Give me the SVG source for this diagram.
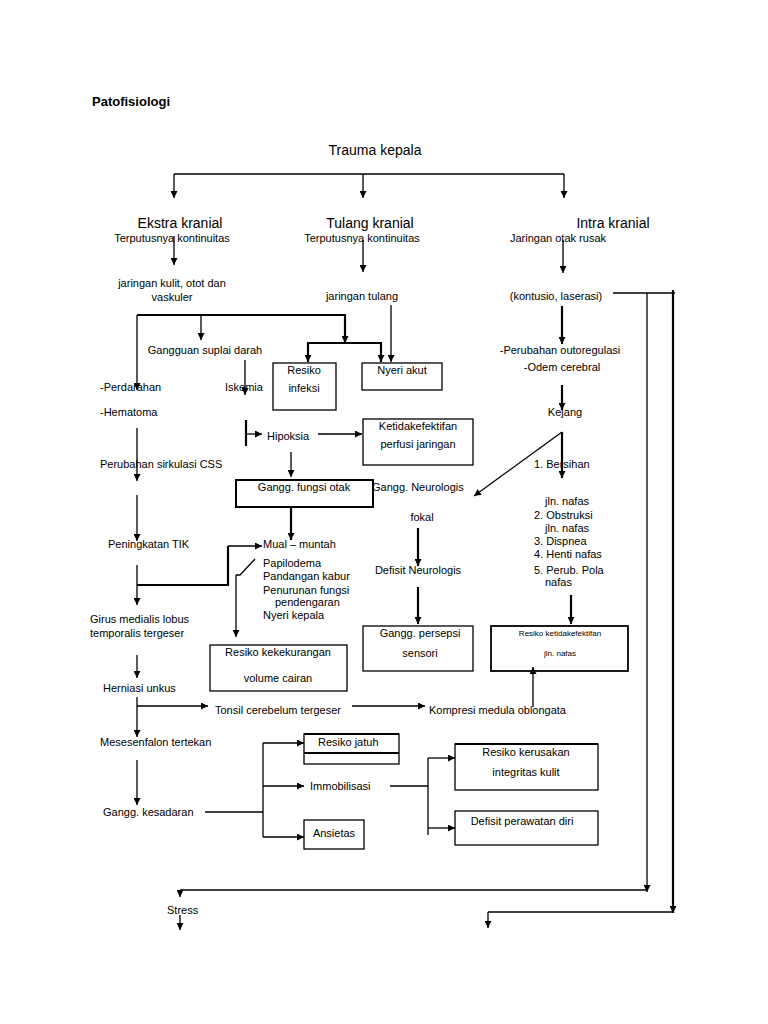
<svg xmlns="http://www.w3.org/2000/svg" width="768" height="1024" viewBox="0 0 768 1024">
<defs><marker id="a" viewBox="0 0 10 10" refX="10" refY="5" markerWidth="7" markerHeight="7" markerUnits="userSpaceOnUse" orient="auto"><path d="M0,0L10,5L0,10z" fill="#000"/></marker></defs>
<style>
text{font-family:"Liberation Sans",Arial,sans-serif;font-size:11px;fill:#000}
.c{text-anchor:middle}.b{font-size:14px}
g rect{fill:none;stroke:#000;stroke-width:1.3}
#e line,#e polyline{stroke:#000;stroke-width:1.3;fill:none}
.t{stroke-width:2.2!important}
</style>
<rect x="0" y="0" width="768" height="1024" fill="#fff"/>
<text x="92" y="106" style="font-weight:bold;font-size:13px">Patofisiologi</text>
<g id="e">
<line x1="174" y1="174" x2="564" y2="174"/>
<line x1="174" y1="174" x2="174" y2="198" marker-end="url(#a)"/>
<line x1="363" y1="174" x2="363" y2="198" marker-end="url(#a)"/>
<line x1="564" y1="174" x2="564" y2="198" marker-end="url(#a)"/>
<line x1="174" y1="236" x2="174" y2="265" marker-end="url(#a)"/>
<line x1="363" y1="240" x2="363" y2="272" marker-end="url(#a)"/>
<line x1="563" y1="240" x2="563" y2="273" marker-end="url(#a)"/>
<line class="t" x1="137" y1="315" x2="346" y2="315"/>
<line x1="137" y1="315" x2="137" y2="390" marker-end="url(#a)"/>
<line x1="201" y1="315" x2="201" y2="340" marker-end="url(#a)"/>
<line class="t" x1="345" y1="315" x2="345" y2="343" marker-end="url(#a)"/>
<polyline class="t" points="308,362 308,343 381,343 381,362"/>
<line x1="308" y1="350" x2="308" y2="362" marker-end="url(#a)"/>
<line x1="381" y1="350" x2="381" y2="362" marker-end="url(#a)"/>
<line x1="391" y1="305" x2="391" y2="362" marker-end="url(#a)"/>
<line x1="245" y1="360" x2="245" y2="395" marker-end="url(#a)"/>
<line class="t" x1="246" y1="420" x2="246" y2="446"/>
<line x1="246" y1="434" x2="262" y2="434" marker-end="url(#a)"/>
<line x1="318" y1="434" x2="362" y2="434" marker-end="url(#a)"/>
<line x1="137" y1="428" x2="137" y2="481" marker-end="url(#a)"/>
<line x1="291" y1="452" x2="291" y2="477" marker-end="url(#a)"/>
<line class="t" x1="291" y1="507" x2="291" y2="540" marker-end="url(#a)"/>
<line x1="137" y1="495" x2="137" y2="541" marker-end="url(#a)"/>
<line x1="137" y1="565" x2="137" y2="605" marker-end="url(#a)"/>
<polyline class="t" points="137,585 228,585 228,546"/>
<line x1="228" y1="546" x2="262" y2="546" marker-end="url(#a)"/>
<polyline points="255,559 240,575 236,575"/>
<line x1="236" y1="575" x2="236" y2="637" marker-end="url(#a)"/>
<line x1="137" y1="655" x2="137" y2="678" marker-end="url(#a)"/>
<line x1="137" y1="697" x2="137" y2="737" marker-end="url(#a)"/>
<line x1="137" y1="706" x2="208" y2="706" marker-end="url(#a)"/>
<line x1="352" y1="706" x2="425" y2="706" marker-end="url(#a)"/>
<line x1="533" y1="707" x2="533" y2="667" marker-end="url(#a)"/>
<line class="t" x1="418" y1="528" x2="418" y2="566" marker-end="url(#a)"/>
<line class="t" x1="418" y1="587" x2="418" y2="624" marker-end="url(#a)"/>
<line class="t" x1="562" y1="306" x2="562" y2="344" marker-end="url(#a)"/>
<line class="t" x1="562" y1="385" x2="562" y2="410" marker-end="url(#a)"/>
<line x1="562" y1="432" x2="474" y2="496" marker-end="url(#a)"/>
<line class="t" x1="562" y1="432" x2="562" y2="478" marker-end="url(#a)"/>
<line class="t" x1="571" y1="595" x2="571" y2="624" marker-end="url(#a)"/>
<line x1="613" y1="293" x2="675" y2="293"/>
<line x1="647" y1="293" x2="647" y2="892" marker-end="url(#a)"/>
<line class="t" x1="673" y1="290" x2="673" y2="913" marker-end="url(#a)"/>
<line x1="647" y1="890" x2="180" y2="890"/>
<line x1="180" y1="890" x2="180" y2="897" marker-end="url(#a)"/>
<line x1="180" y1="915" x2="180" y2="930" marker-end="url(#a)"/>
<line x1="673" y1="912" x2="488" y2="912"/>
<line x1="488" y1="912" x2="488" y2="928" marker-end="url(#a)"/>
<line x1="137" y1="760" x2="137" y2="805" marker-end="url(#a)"/>
<line x1="205" y1="812" x2="263" y2="812"/>
<line x1="263" y1="743" x2="263" y2="837"/>
<line x1="263" y1="743" x2="304" y2="743" marker-end="url(#a)"/>
<line x1="263" y1="786" x2="304" y2="786" marker-end="url(#a)"/>
<line x1="263" y1="837" x2="304" y2="837" marker-end="url(#a)"/>
<line x1="390" y1="786" x2="428" y2="786"/>
<line x1="428" y1="758" x2="428" y2="835"/>
<line x1="428" y1="758" x2="455" y2="758" marker-end="url(#a)"/>
<line x1="428" y1="828" x2="455" y2="828" marker-end="url(#a)"/>
</g>
<g id="n1"><text class="c b" x="375" y="155">Trauma kepala</text></g>
<g id="n2"><text class="c b" x="180" y="228">Ekstra kranial</text><text class="c" x="172" y="242">Terputusnya kontinuitas</text></g>
<g id="n3"><text class="c b" x="370" y="228">Tulang kranial</text><text class="c" x="362" y="242">Terputusnya kontinuitas</text></g>
<g id="n4"><text class="c b" x="613" y="228">Intra kranial</text><text class="c" x="558" y="242">Jaringan otak rusak</text></g>
<g id="n5"><text class="c" x="172" y="287">jaringan kulit, otot dan</text><text class="c" x="172" y="301">vaskuler</text></g>
<g id="n6"><text class="c" x="362" y="300">jaringan tulang</text></g>
<g id="n7"><text class="c" x="556" y="300">(kontusio, laserasi)</text></g>
<g id="n8"><text class="c" x="205" y="354">Gangguan suplai darah</text></g>
<g id="n9"><rect x="273" y="363" width="63" height="47"/><text class="c" x="304" y="374">Resiko</text><text class="c" x="304" y="392">infeksi</text></g>
<g id="n10"><rect x="362" y="363" width="80" height="27"/><text class="c" x="402" y="374">Nyeri akut</text></g>
<g id="n11"><text x="100" y="391">-Perdarahan</text><text x="100" y="416">-Hematoma</text></g>
<g id="n12"><text x="225" y="391">Iskemia</text></g>
<g id="n13"><text x="267" y="440">Hipoksia</text></g>
<g id="n14"><rect x="363" y="419" width="110" height="46"/><text class="c" x="418" y="430">Ketidakefektifan</text><text class="c" x="418" y="448">perfusi jaringan</text></g>
<g id="n15"><text x="100" y="468">Perubahan sirkulasi CSS</text></g>
<g id="n16"><rect x="236" y="480" width="137" height="27" style="stroke-width:2"/><text class="c" x="304" y="491">Gangg. fungsi otak</text></g>
<g id="n17"><text x="372" y="491">Gangg. Neurologis</text><text class="c" x="422" y="521">fokal</text></g>
<g id="n18"><text x="108" y="548">Peningkatan TIK</text></g>
<g id="n19"><text x="263" y="548">Mual – muntah</text><text x="263" y="567">Papilodema</text><text x="263" y="580">Pandangan kabur</text><text x="263" y="594">Penurunan fungsi</text><text x="275" y="606">pendengaran</text><text x="263" y="619">Nyeri kepala</text></g>
<g id="n20"><text class="c" x="418" y="574">Defisit Neurologis</text></g>
<g id="n21"><text x="90" y="623">Girus  medialis  lobus</text><text x="90" y="637">temporalis tergeser</text></g>
<g id="n22"><rect x="210" y="645" width="137" height="46"/><text class="c" x="278" y="656">Resiko kekekurangan</text><text class="c" x="278" y="682">volume cairan</text></g>
<g id="n23"><rect x="363" y="626" width="110" height="45"/><text class="c" x="420" y="637">Gangg. persepsi</text><text class="c" x="420" y="657">sensori</text></g>
<g id="n24"><rect x="491" y="626" width="137" height="45" style="stroke-width:1.8"/><text class="c" x="560" y="636" style="font-size:8px">Resiko ketidakefektifan</text><text class="c" x="560" y="656" style="font-size:8px">jln. nafas</text></g>
<g id="n25"><text class="c" x="560" y="354">-Perubahan outoregulasi</text><text class="c" x="562" y="371">-Odem cerebral</text></g>
<g id="n26"><text class="c" x="565" y="416">Kejang</text></g>
<g id="n27"><text x="534" y="468">1. Bersihan</text><text x="545" y="505">jln. nafas</text><text x="534" y="519">2. Obstruksi</text><text x="545" y="532">jln. nafas</text><text x="534" y="545">3. Dispnea</text><text x="534" y="558">4. Henti nafas</text><text x="534" y="574">5. Perub. Pola</text><text x="545" y="586">nafas</text></g>
<g id="n28"><text x="103" y="692">Herniasi unkus</text></g>
<g id="n29"><text x="215" y="714">Tonsil cerebelum tergeser</text></g>
<g id="n30"><text x="429" y="714">Kompresi medula oblongata</text></g>
<g id="n31"><text x="100" y="746">Mesesenfalon tertekan</text></g>
<g id="n32"><text x="103" y="816">Gangg. kesadaran</text></g>
<g id="n33"><rect x="304" y="734" width="95" height="30"/><line x1="304" y1="734" x2="399" y2="734" stroke="#000" stroke-width="2"/><line x1="304" y1="753" x2="399" y2="753" stroke="#000" stroke-width="2"/><text x="318" y="746">Resiko jatuh</text></g>
<g id="n34"><text x="310" y="790">Immobilisasi</text></g>
<g id="n35"><rect x="304" y="820" width="60" height="29"/><text class="c" x="334" y="837">Ansietas</text></g>
<g id="n36"><rect x="455" y="744" width="143" height="46"/><line x1="455" y1="744" x2="598" y2="744" stroke="#000" stroke-width="2"/><text class="c" x="526" y="756">Resiko kerusakan</text><text class="c" x="526" y="776">integritas kulit</text></g>
<g id="n37"><rect x="455" y="811" width="143" height="34"/><text class="c" x="522" y="825">Defisit perawatan diri</text></g>
<g id="n38"><text x="167" y="914">Stress</text></g>
</svg>
